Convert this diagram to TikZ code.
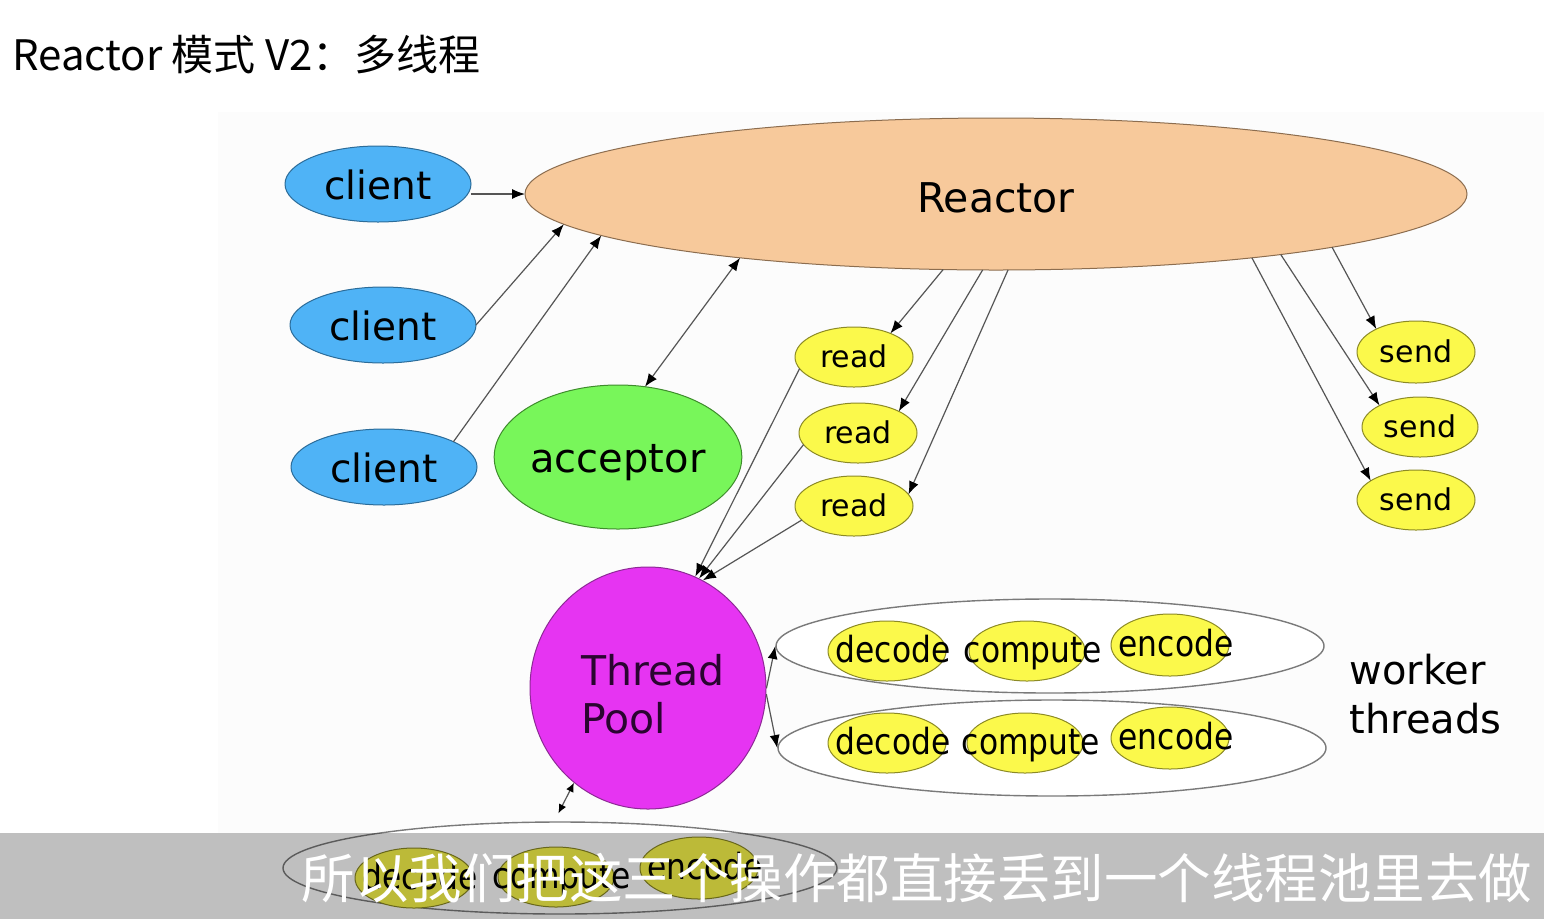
\documentclass[tikz,border=0pt]{standalone}
\usepackage{fontspec}
\usepackage{graphicx}
\setmainfont{DejaVu Sans}
\newfontfamily\cjk{Noto Sans CJK SC}
\usetikzlibrary{shapes.geometric,arrows.meta}
\definecolor{cblue}{HTML}{4FB3F6}
\definecolor{cblueD}{HTML}{2B6C99}
\definecolor{peach}{HTML}{F7C99B}
\definecolor{peachD}{HTML}{8C6D4F}
\definecolor{lgreen}{HTML}{78F65A}
\definecolor{lgreenD}{HTML}{3E8C2C}
\definecolor{yel}{HTML}{FBF94B}
\definecolor{yelD}{HTML}{8C8A25}
\definecolor{mag}{HTML}{E634F2}
\definecolor{magD}{HTML}{8E2A96}
\definecolor{wgray}{HTML}{7A7A7A}
\definecolor{lgray}{HTML}{555555}
\definecolor{ptext}{HTML}{2A0530}
\newcommand{\wtxt}[1]{\makebox[0pt]{\hspace*{12pt}\scalebox{0.87}[1]{#1}}}
\begin{document}
\begin{tikzpicture}[x=1pt,y=-1pt,
  base/.style={ellipse, inner sep=0pt, outer sep=0pt, text depth=0pt},
  clientn/.style={base, text height=30pt, fill=cblue, draw=cblueD, line width=1pt, minimum width=186pt, minimum height=76pt, font=\fontsize{39}{39}\selectfont},
  reactorn/.style={base, text height=36pt, fill=peach, draw=peachD, line width=1pt, minimum width=942pt, minimum height=152pt, font=\fontsize{41}{41}\selectfont},
  acceptn/.style={base, text height=30pt, fill=lgreen, draw=lgreenD, line width=1pt, minimum width=240pt, minimum height=144pt, font=\fontsize{40}{40}\selectfont},
  smalln/.style={base, text height=20pt, fill=yel, draw=yelD, line width=1pt, minimum width=118pt, minimum height=60pt, font=\fontsize{30}{30}\selectfont},
  worktask/.style={base, text height=22pt, fill=yel, draw=yelD, line width=1pt, minimum width=118pt, minimum height=60pt, font=\fontsize{36}{36}\selectfont},
  pooln/.style={ellipse, inner sep=0pt, fill=mag, draw=magD, line width=1pt, minimum width=236pt, minimum height=242pt},
  pooltext/.style={anchor=north west, inner sep=0pt, align=left, text=ptext, font=\fontsize{41}{48}\selectfont},
  groupn/.style={ellipse, inner sep=0pt, fill=white, draw=wgray, line width=1.4pt},
  conn/.style={draw=lgray, line width=1.2pt, -{Latex[length=13pt,width=10pt,color=black]}},
  dconn/.style={draw=lgray, line width=1.2pt, {Latex[length=13pt,width=10pt,color=black]}-{Latex[length=13pt,width=10pt,color=black]}},
  sdconn/.style={draw=lgray, line width=1.2pt, {Latex[length=9pt,width=8pt,color=black]}-{Latex[length=9pt,width=8pt,color=black]}}
]
\useasboundingbox (0,0) rectangle (1544,922);
\fill[white] (0,0) rectangle (1544,922);
\fill[black!1] (218,112) rectangle (1544,833);

\node[anchor=base west, inner sep=0pt, font=\cjk\fontsize{42}{42}\selectfont] (title) at (12,70) {Reactor 模式 V2：多线程};

\node[reactorn] (reactor) at (996,194) {Reactor};
\node[clientn] (client1) at (378,184) {client};
\node[clientn] (client2) at (383,325) {client};
\node[clientn] (client3) at (384,467) {client};
\node[acceptn] (acceptor) at (618,457) {acceptor};
\node[smalln] (read1) at (854,357) {read};
\node[smalln] (read2) at (858,433) {read};
\node[smalln] (read3) at (854,506) {read};
\node[smalln, minimum height=62pt] (send1) at (1416,352) {send};
\node[smalln, minimum width=116pt] (send2) at (1420,427) {send};
\node[smalln] (send3) at (1416,500) {send};
\node[pooln] (pool) at (648,688) {};
\node[pooltext] (pooltxt) at (581,654) {Thread\\Pool};

\node[groupn, minimum width=548pt, minimum height=94pt] (w1) at (1050,646) {};
\node[groupn, minimum width=548pt, minimum height=96pt] (w2) at (1052,748) {};
\node[groupn, minimum width=554pt, minimum height=92pt] (w3) at (560,868) {};

\node[worktask] (d1) at (887,651) {\wtxt{decode}};
\node[worktask, minimum width=116pt] (c1) at (1027,651) {\wtxt{compute}};
\node[worktask, minimum height=62pt] (e1) at (1170,645) {\wtxt{encode}};
\node[worktask] (d2) at (887,743) {\wtxt{decode}};
\node[worktask, minimum width=116pt] (c2) at (1025,743) {\wtxt{compute}};
\node[worktask, minimum height=62pt] (e2) at (1170,738) {\wtxt{encode}};
\node[worktask] (d3) at (414,878) {\wtxt{decode}};
\node[worktask, minimum width=116pt] (c3) at (556,877) {\wtxt{compute}};
\node[worktask, minimum height=62pt] (e3) at (699,868) {\wtxt{encode}};

\node[anchor=west, align=left, font=\fontsize{40}{49}\selectfont] (wlabel) at (1346,694) {worker\\threads};

\draw[conn] (client1.east |- reactor.west) -- (reactor.west);
\draw[conn] (client2.0) -- (reactor.184);
\draw[conn] (client3.20) -- (reactor.186);
\draw[dconn] (acceptor.69) -- (reactor.194);
\draw[conn] (reactor.235) -- (read1.33);
\draw[conn] (reactor.260) -- (read2.28);
\draw[conn] (reactor.279) -- (read3.12);
\draw[conn] (read1.192) -- (pool.67);
\draw[conn] (read2.192) -- (pool.65);
\draw[conn] (read3.195) -- (pool.63);
\draw[conn] (reactor.351) -- (send1.150);
\draw[conn] (reactor.348) -- (send2.152);
\draw[conn] (reactor.346) -- (send3.157);
\draw[conn] (pool.east) -- (w1.west);
\draw[conn] (pool.-3) -- (w2.west);
\draw[sdconn, shorten >=9pt] (pool.232) -- (w3.97);

\fill[black, opacity=0.25] (0,833) rectangle (1544,919);
\node[text=white, font=\cjk\fontsize{53.5}{53.5}\selectfont] (subtitle) at (917,878) {所以我们把这三个操作都直接丢到一个线程池里去做};
\end{tikzpicture}
\end{document}
